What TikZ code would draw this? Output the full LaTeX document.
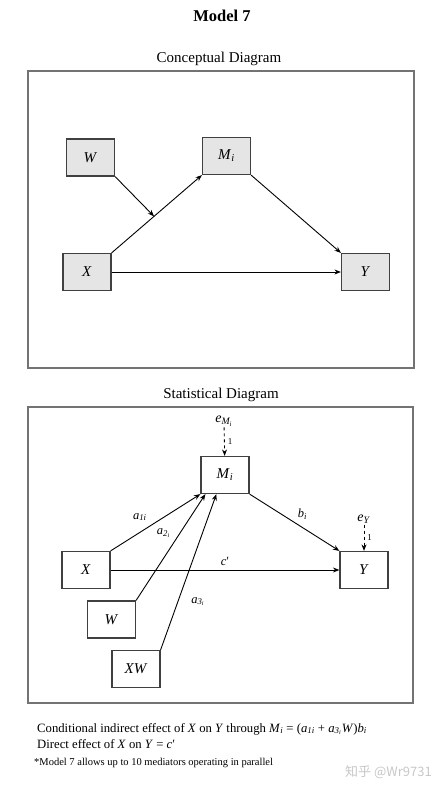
\documentclass[tikz,border=0pt]{standalone}
\usepackage{fontspec}
\setmainfont{Liberation Serif}
\newfontfamily\cjkfont{Noto Sans CJK SC}
\usetikzlibrary{arrows.meta,calc}
\newcommand{\ti}[1]{\textit{#1}}
\newcommand{\isub}[1]{\textsubscript{\textit{#1}}}
\begin{document}
\begin{tikzpicture}[x=1pt,y=-1pt,
	var/.style={draw=black!75, line width=1.2pt, minimum width=48pt, minimum height=37pt, inner sep=0pt, font=\fontsize{15}{17}\selectfont},
	cvar/.style={var, fill=black!10},
	frame/.style={draw=black!55, line width=1.2pt},
	arr/.style={-{Stealth[length=6.5pt,width=5pt]}, line width=0.9pt},
	err/.style={arr, dashed},
	lab/.style={font=\fontsize{12.5}{14}\selectfont, inner sep=1pt},
	txt/.style={anchor=base west, inner sep=0pt, font=\fontsize{12.7}{15}\selectfont}]
	\useasboundingbox (0,0) rectangle (444,794);
	\node [anchor=base, font=\bfseries\fontsize{16.5}{18}\selectfont] (title) at (222,22) {Model 7};
	% conceptual diagram
	\node [anchor=base, font=\fontsize{15}{17}\selectfont] (ctitle) at (219,63) {Conceptual Diagram};
	\draw [frame] (28,71) rectangle (414,368);
	\node [cvar] (cw) at (90.5,157.5) {\ti{W}};
	\node [cvar] (cm) at (226.5,156) {\ti{M}\isub{i}};
	\node [cvar] (cx) at (87,272) {\ti{X}};
	\node [cvar] (cy) at (365.5,272) {\ti{Y}};
	\coordinate (cmod) at ($(cx.north east)!0.47!(cm.south west)$);
	\draw [arr] (cx.north east) -- (cm.south west);
	\draw [arr] (cw.south east) -- (cmod);
	\draw [arr] (cm.south east) -- (cy.north west);
	\draw [arr] (cx) -- (cy);
	% statistical diagram
	\node [anchor=base, font=\fontsize{15}{17}\selectfont] (stitle) at (221,398) {Statistical Diagram};
	\draw [frame] (28,407) rectangle (413,703);
	\node [var] (sm) at (225,475) {\ti{M}\isub{i}};
	\node [var] (sx) at (86,570) {\ti{X}};
	\node [var] (sy) at (364,570) {\ti{Y}};
	\node [var] (sw) at (111.5,619.5) {\ti{W}};
	\node [var] (sxw) at (136,669) {\ti{XW}};
	\node [lab, font=\fontsize{14}{16}\selectfont] (em) at (224,421) {\ti{e}\isub{M\textsubscript{i}}};
	\node [lab, font=\fontsize{14}{16}\selectfont] (ey) at (364,519) {\ti{e}\isub{Y}};
	\draw [err] (em) -- (sm) node [midway, right=2pt, lab, font=\fontsize{9}{10}\selectfont] {1};
	\draw [err] (ey) -- (sy) node [midway, right=2pt, lab, font=\fontsize{9}{10}\selectfont] {1};
	\draw [arr] (sx.north east) -- (sm.south west) node [lab, pos=0.45, above left=3pt] {\ti{a}\isub{1i}};
	\draw [arr] (sw.north east) -- ($(sm.south west)+(5,0)$) node [lab, pos=0.63, left=8pt] {\ti{a}\isub{2\textsubscript{i}}};
	\draw [arr] (sxw.north east) -- ($(sm.south west)+(16,0)$) node [lab, pos=0.31, right=12pt] {\ti{a}\isub{3\textsubscript{i}}};
	\draw [arr] (sm.south east) -- (sy.north west) node [lab, pos=0.5, above right=2pt] {\ti{b}\isub{i}};
	\draw [arr] (sx) -- (sy) node [lab, midway, above=3pt] {\ti{c}′};
	% effects
	\node [txt] (ind) at (37,732) {Conditional indirect effect of \ti{X} on \ti{Y} through \ti{M}\isub{i} = (\ti{a}\isub{1i} + \ti{a}\isub{3\textsubscript{i}}\ti{W})\ti{b}\isub{i}};
	\node [txt] (dir) at (37,748) {Direct effect of \ti{X} on \ti{Y} = \ti{c}′};
	\node [txt, font=\fontsize{10.5}{12}\selectfont] (note) at (34,765) {*Model 7 allows up to 10 mediators operating in parallel};
	\node [txt, text=black!22, font=\cjkfont\fontsize{13}{15}\selectfont] (mark) at (345,776) {知乎 @Wr9731};
\end{tikzpicture}
\end{document}
